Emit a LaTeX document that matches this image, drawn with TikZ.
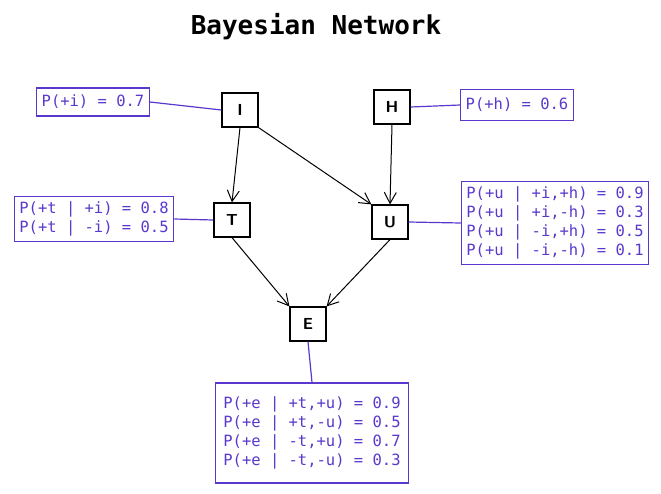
\documentclass[tikz,border=0pt]{standalone}
\usepackage{fontspec}
\setmonofont{DejaVu Sans Mono}
\usetikzlibrary{arrows.meta}
\definecolor{cpt}{RGB}{90,56,205}
\begin{document}
\begin{tikzpicture}[x=1pt,y=-1pt,
  var/.style={draw=black,line width=1.2pt,minimum width=36pt,minimum height=34pt,inner sep=0pt,font=\sffamily\bfseries\fontsize{16}{16}\selectfont},
  tab/.style={draw=cpt,line width=1.2pt,text=cpt,align=left,inner xsep=5pt,inner ysep=5pt,font=\ttfamily\fontsize{15.5}{19}\selectfont},
  link/.style={draw=cpt,line width=1.2pt},
  arr/.style={draw=black,line width=1pt,-{Straight Barb[length=11pt,width=12pt]}}]
\useasboundingbox (0,0) rectangle (661,493);
\node[font=\ttfamily\bfseries\fontsize{26}{26}\selectfont] (title) at (316,27) {Bayesian Network};
\node[var] (I) at (240,110) {I};
\node[var] (H) at (392,107) {H};
\node[var] (T) at (232,220) {T};
\node[var] (U) at (390,222) {U};
\node[var] (E) at (308,324) {E};
\node[tab,minimum height=28pt] (pi) at (93,102) {P(+i) = 0.7};
\node[tab,minimum height=31pt] (ph) at (517,105) {P(+h) = 0.6};
\node[tab] (pt) at (94,219) {P(+t | +i) = 0.8\\P(+t | -i) = 0.5};
\node[tab] (pu) at (555,223) {P(+u | +i,+h) = 0.9\\P(+u | +i,-h) = 0.3\\P(+u | -i,+h) = 0.5\\P(+u | -i,-h) = 0.1};
\node[tab,inner xsep=8pt,minimum height=100pt] (pe) at (312,433) {P(+e | +t,+u) = 0.9\\P(+e | +t,-u) = 0.5\\P(+e | -t,+u) = 0.7\\P(+e | -t,-u) = 0.3};
\draw[link] (pi.east) -- (I.west);
\draw[link] (H.east) -- (ph.west);
\draw[link] (pt.east) -- (T.west);
\draw[link] (U.east) -- (pu.west);
\draw[link] (E.south) -- (pe.north);
\draw[arr] (I.south) -- (T.north);
\draw[arr] (I.south east) -- (U.north west);
\draw[arr] (H.south) -- (U.north);
\draw[arr] (T.south) -- (E.north west);
\draw[arr] (U.south) -- (E.north east);
\end{tikzpicture}
\end{document}
